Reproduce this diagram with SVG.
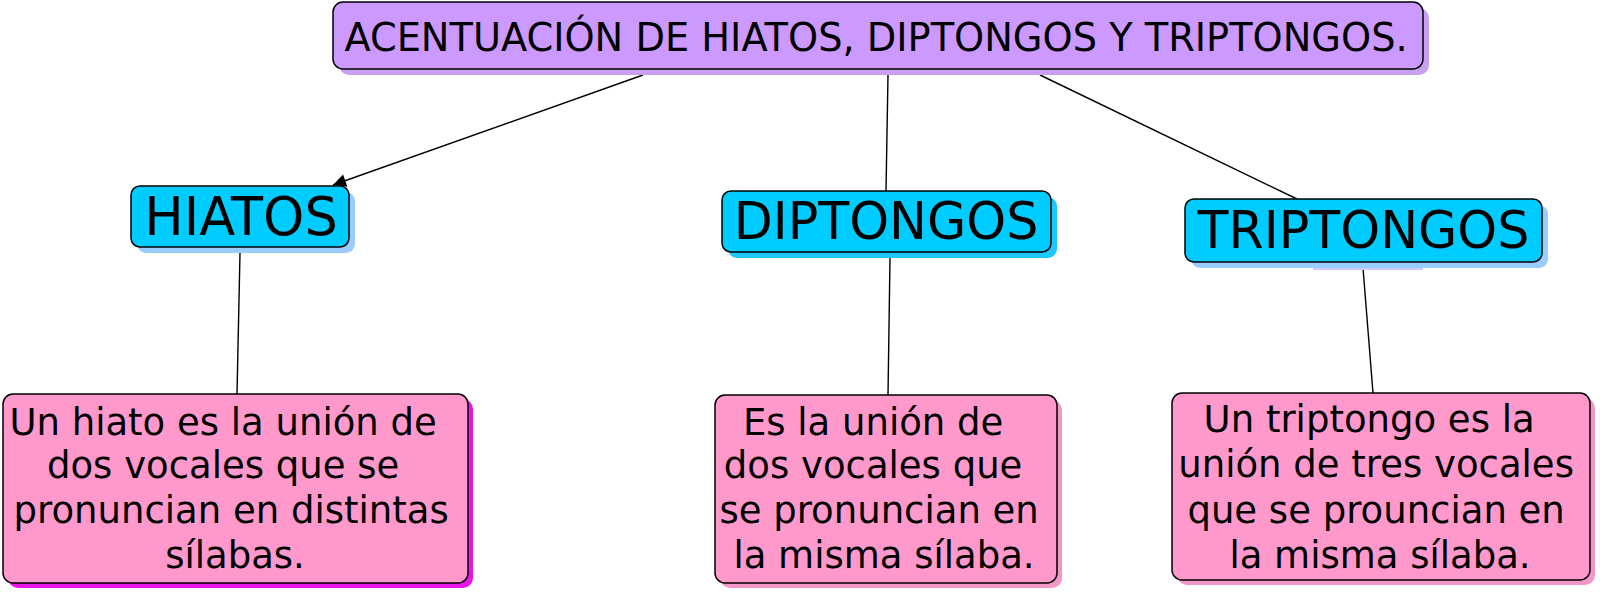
<svg xmlns="http://www.w3.org/2000/svg" width="1600" height="593" viewBox="0 0 1600 593">
<defs>
<style>
.t{font-family:"DejaVu Sans","Verdana",sans-serif;fill:#000;text-anchor:middle}
.box{stroke:#000;stroke-width:1.5}
.c{stroke:#000;stroke-width:1.4;fill:none}
.p{font-size:37px}
.h{font-size:50.7px}
</style>
<marker id="ah" viewBox="0 0 10 10" refX="10" refY="5" markerWidth="17" markerHeight="13" markerUnits="userSpaceOnUse" orient="auto">
<path d="M0,0 L10,5 L0,10 z" fill="#000"/>
</marker>
</defs>
<rect width="1600" height="593" fill="#fff"/>
<g id="connectors">
<line class="c" x1="643" y1="75" x2="333" y2="185" marker-end="url(#ah)"/>
<line class="c" x1="888" y1="75" x2="886" y2="191"/>
<line class="c" x1="1040" y1="75" x2="1297" y2="199"/>
<line class="c" x1="240" y1="253" x2="237" y2="394"/>
<line class="c" x1="890" y1="258" x2="888" y2="395"/>
<line class="c" x1="1363" y1="268" x2="1373" y2="393"/>
</g>
<g id="title">
<rect x="339" y="8" width="1090" height="67" rx="10" fill="#c8a0f0"/>
<rect class="box" x="333" y="2" width="1090" height="67" rx="10" fill="#cc99ff"/>
<text class="t" x="876" y="51" font-size="38.3">ACENTUACIÓN DE HIATOS, DIPTONGOS Y TRIPTONGOS.</text>
</g>
<g id="hiatos">
<rect x="137" y="192" width="218" height="61" rx="9" fill="#99ccff"/>
<rect class="box" x="131" y="186" width="218" height="61" rx="9" fill="#00ccff"/>
<text class="t" x="241" y="235" font-size="52.5">HIATOS</text>
</g>
<g id="diptongos">
<rect x="728" y="197" width="329" height="61" rx="9" fill="#1ec8ff"/>
<rect class="box" x="722" y="191" width="329" height="61" rx="9" fill="#00ccff"/>
<text class="t h" x="886" y="239">DIPTONGOS</text>
</g>
<g id="triptongos">
<rect x="1313" y="266" width="110" height="4" fill="#ccccff"/>
<rect x="1191" y="205" width="357" height="63" rx="9" fill="#99ccff"/>
<rect class="box" x="1185" y="199" width="357" height="63" rx="9" fill="#00ccff"/>
<text class="t h" x="1363.5" y="248">TRIPTONGOS</text>
</g>
<g id="def-hiato">
<rect x="8" y="399" width="465" height="189" rx="10" fill="#e815e8"/>
<rect class="box" x="3" y="394" width="465" height="189" rx="10" fill="#ff99cc"/>
<text class="t p">
<tspan x="229" y="435">Un hiato es la unión de</tspan>
<tspan x="229" y="478">dos vocales que se</tspan>
<tspan x="237" y="523">pronuncian en distintas</tspan>
<tspan x="235" y="568">sílabas.</tspan>
</text>
</g>
<g id="def-diptongo">
<rect x="720" y="400" width="342" height="188" rx="10" fill="#f297c8"/>
<rect class="box" x="715" y="395" width="342" height="188" rx="10" fill="#ff99cc"/>
<text class="t p">
<tspan x="879" y="435">Es la unión de</tspan>
<tspan x="879" y="478">dos vocales que</tspan>
<tspan x="885" y="523">se pronuncian en</tspan>
<tspan x="884" y="568">la misma sílaba.</tspan>
</text>
</g>
<g id="def-triptongo">
<rect x="1177" y="398" width="418" height="187" rx="10" fill="#f297c8"/>
<rect class="box" x="1172" y="393" width="418" height="187" rx="10" fill="#ff99cc"/>
<text class="t p">
<tspan x="1375" y="432">Un triptongo es la</tspan>
<tspan x="1382" y="477">unión de tres vocales</tspan>
<tspan x="1382" y="523">que se prouncian en</tspan>
<tspan x="1380" y="568">la misma sílaba.</tspan>
</text>
</g>
</svg>
